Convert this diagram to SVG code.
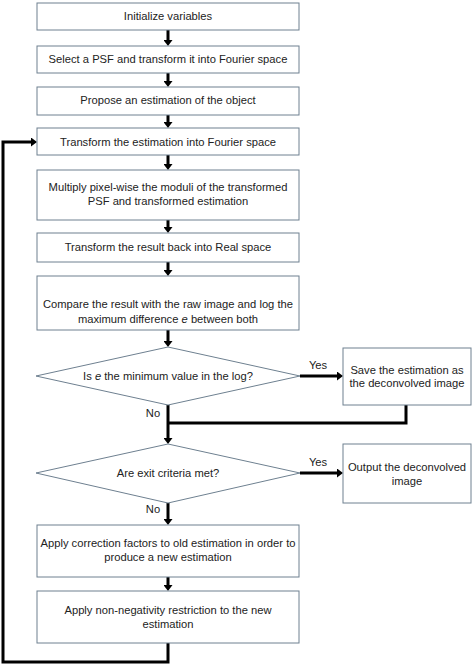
<svg xmlns="http://www.w3.org/2000/svg" width="474" height="665" viewBox="0 0 474 665">
<defs>
<style>
.box{fill:#fff;stroke:#6e8090;stroke-width:1}
.t{font-family:"Liberation Sans",Arial,sans-serif;font-size:11.2px;fill:#222;text-anchor:middle}
.c{fill:none;stroke:#000;stroke-width:3}
</style>
<marker id="ah" viewBox="0 0 6 9" refX="2" refY="4.5" markerWidth="6" markerHeight="9" markerUnits="userSpaceOnUse" orient="auto">
<path d="M0,0 L6,4.5 L0,9 z" fill="#000"/>
</marker>
</defs>
<rect width="474" height="665" fill="#fff"/>
<g id="connectors">
<path class="c" d="M168,30 V42" marker-end="url(#ah)"/>
<path class="c" d="M168,73 V83" marker-end="url(#ah)"/>
<path class="c" d="M168,115 V124" marker-end="url(#ah)"/>
<path class="c" d="M168,155 V166" marker-end="url(#ah)"/>
<path class="c" d="M168,220 V229" marker-end="url(#ah)"/>
<path class="c" d="M168,262 V272" marker-end="url(#ah)"/>
<path class="c" d="M168,330 V343" marker-end="url(#ah)"/>
<path class="c" d="M300,376 H339" marker-end="url(#ah)"/>
<path class="c" d="M168,405 V440" marker-end="url(#ah)"/>
<path class="c" d="M406,405 V423 H168"/>
<path class="c" d="M300,473 H339" marker-end="url(#ah)"/>
<path class="c" d="M168,503 V521" marker-end="url(#ah)"/>
<path class="c" d="M168,577 V587" marker-end="url(#ah)"/>
<path class="c" d="M168,643 V662 H3 V142 H33" marker-end="url(#ah)"/>
<text class="t" x="318" y="369">Yes</text>
<text class="t" x="153" y="417">No</text>
<text class="t" x="318" y="466">Yes</text>
<text class="t" x="153" y="513">No</text>
</g>
<g id="n1"><rect class="box" x="37" y="3" width="262" height="27"/><text class="t" x="168" y="20">Initialize variables</text></g>
<g id="n2"><rect class="box" x="37" y="46" width="262" height="27"/><text class="t" x="168" y="63">Select a PSF and transform it into Fourier space</text></g>
<g id="n3"><rect class="box" x="37" y="87" width="262" height="28"/><text class="t" x="168" y="104">Propose an estimation of the object</text></g>
<g id="n4"><rect class="box" x="37" y="128" width="262" height="27"/><text class="t" x="168" y="146">Transform the estimation into Fourier space</text></g>
<g id="n5"><rect class="box" x="37" y="170" width="262" height="50"/><text class="t" x="168" y="191">Multiply pixel-wise the moduli of the transformed</text><text class="t" x="168" y="205">PSF and transformed estimation</text></g>
<g id="n6"><rect class="box" x="37" y="233" width="262" height="29"/><text class="t" x="168" y="251">Transform the result back into Real space</text></g>
<g id="n7"><rect class="box" x="37" y="276" width="262" height="54"/><text class="t" x="168" y="308">Compare the result with the raw image and log the</text><text class="t" x="168" y="323">maximum difference <tspan font-style="italic">e</tspan> between both</text></g>
<g id="d1"><polygon class="box" points="168,347 300,376 168,405 36,376"/><text class="t" x="168" y="380">Is <tspan font-style="italic">e</tspan> the minimum value in the log?</text></g>
<g id="n8"><rect class="box" x="343" y="348" width="128" height="57"/><text class="t" x="407" y="374">Save the estimation as</text><text class="t" x="407" y="387">the deconvolved image</text></g>
<g id="d2"><polygon class="box" points="168,444 300,473 168,503 36,473"/><text class="t" x="168" y="477">Are exit criteria met?</text></g>
<g id="n9"><rect class="box" x="343" y="444" width="128" height="59"/><text class="t" x="407" y="471">Output the deconvolved</text><text class="t" x="407" y="485">image</text></g>
<g id="n10"><rect class="box" x="37" y="525" width="262" height="52"/><text class="t" x="168" y="547">Apply correction factors to old estimation in order to</text><text class="t" x="168" y="561">produce a new estimation</text></g>
<g id="n11"><rect class="box" x="37" y="591" width="262" height="52"/><text class="t" x="168" y="614">Apply non-negativity restriction to the new</text><text class="t" x="168" y="628">estimation</text></g>
</svg>
